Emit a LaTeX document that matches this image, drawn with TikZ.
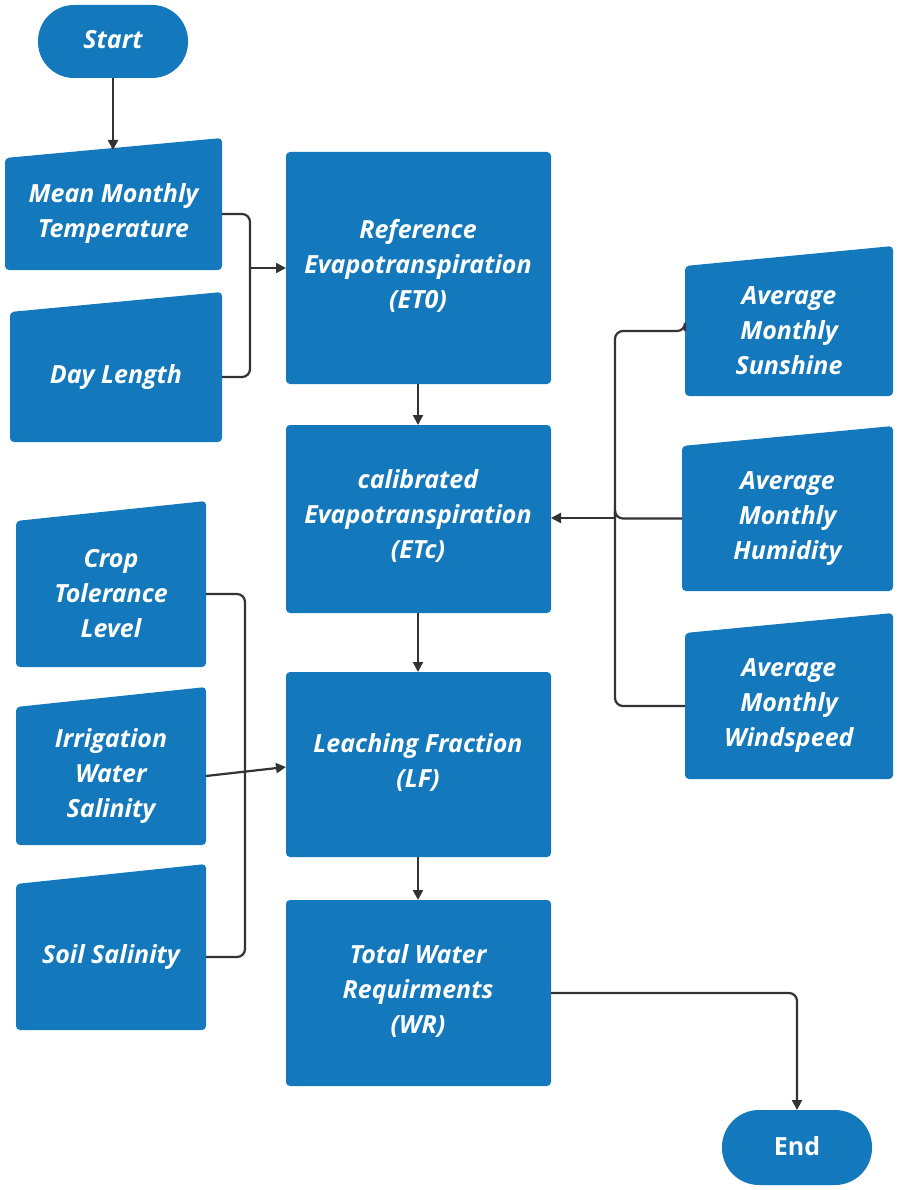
\documentclass[tikz,border=0pt]{standalone}
\usepackage{fontspec}
\setmainfont{Open Sans}
\usetikzlibrary{arrows.meta}
\definecolor{fc}{HTML}{1479BC}
\definecolor{lc}{HTML}{333333}
\tikzset{
  txt/.style={text=white,font=\fontsize{25}{35}\selectfont\bfseries\itshape,align=center,inner sep=0pt},
  box/.style={fill=fc,rounded corners=4pt},
  con/.style={draw=lc,line width=2.2pt,rounded corners=8pt},
  arr/.style={con,-{Triangle[length=10pt,width=10pt]}}
}
% manual input: \minput{name}{x1}{y1}{x2}{y2}{slant}{text}
\newcommand\minput[7]{%
  \fill[fc,rounded corners=4pt] (#2,#3+#6)--(#4,#3)--(#4,#5)--(#2,#5)--cycle;
  \node[txt] (#1) at ({(#2+#4)/2},{(#3+#5)/2+#6/2}) {#7};
  \coordinate (#1-l) at (#2,{(#3+#5)/2+#6/2});
  \coordinate (#1-r) at (#4,{(#3+#5)/2+#6/2});
}
\begin{document}
\begin{tikzpicture}[x=1pt,y=-1pt]
\useasboundingbox (0,0) rectangle (900,1190);
\fill[white] (0,0) rectangle (900,1190);
% terminals
\fill[fc,rounded corners=36pt] (38,5) rectangle (188,78);
\node[txt] (start) at (113,40) {Start};
\coordinate (start-b) at (113,78);
\fill[fc,rounded corners=37pt] (722,1110) rectangle (872,1185);
\node[txt,font=\fontsize{25}{35}\selectfont\bfseries] (end) at (797,1146) {End};
\coordinate (end-t) at (797,1110);
% process boxes
\fill[box] (286,152) rectangle (551,384);
\node[txt] (et0) at (418,266) {Reference\\Evapotranspiration\\(ET0)};
\fill[box] (286,425) rectangle (551,613);
\node[txt] (etc) at (418,516) {calibrated\\Evapotranspiration\\(ETc)};
\fill[box] (286,672) rectangle (551,857);
\node[txt] (lf) at (418,762) {Leaching Fraction\\(LF)};
\fill[box] (286,900) rectangle (551,1086);
\node[txt] (wr) at (418,991) {Total Water\\Requirments\\(WR)};
\coordinate (et0-t) at (418,152); \coordinate (et0-b) at (418,384); \coordinate (et0-l) at (286,268);
\coordinate (etc-t) at (418,425); \coordinate (etc-b) at (418,613); \coordinate (etc-r) at (551,518);
\coordinate (lf-t) at (418,672); \coordinate (lf-b) at (418,857); \coordinate (lf-l) at (286,767);
\coordinate (wr-t) at (418,900); \coordinate (wr-r) at (551,993);
% inputs
\minput{mean}{5}{138}{222}{270}{20}{Mean Monthly\\Temperature}
\minput{day}{10}{292}{222}{442}{20}{Day Length}
\minput{sun}{685}{246}{893}{396}{20}{Average\\Monthly\\Sunshine}
\minput{hum}{682}{426}{893}{591}{20}{Average\\Monthly\\Humidity}
\minput{wind}{685}{613}{893}{779}{20}{Average\\Monthly\\Windspeed}
\minput{crop}{16}{501}{206}{667}{20}{Crop\\Tolerance\\Level}
\minput{irr}{16}{687}{206}{845}{20}{Irrigation\\Water\\Salinity}
\minput{soil}{16}{864}{206}{1030}{20}{Soil Salinity}
\coordinate (mean-t) at (113,150);
% connectors
\draw[arr] (start-b) -- (mean-t);
\draw[con] (mean-r) -| (250,268);
\draw[con] (day-r) -| (250,268);
\draw[arr] (250,268) -- (et0-l);
\draw[arr] (et0-b) -- (etc-t);
\draw[con] (sun-r -| sun-l) -- (sun-l) -| (615,518);
\draw[con] (wind-l) -| (615,518);
\draw[con] (hum-l) -| (615,518);
\draw[arr] (615,518) -- (etc-r);
\draw[arr] (etc-b) -- (lf-t);
\draw[con] (crop-r) -| (245,767);
\draw[con] (soil-r) -| (245,767);
\draw[arr] (irr-r) -- (lf-l);
\draw[arr] (lf-b) -- (wr-t);
\draw[arr] (wr-r) -| (end-t);
\end{tikzpicture}
\end{document}
